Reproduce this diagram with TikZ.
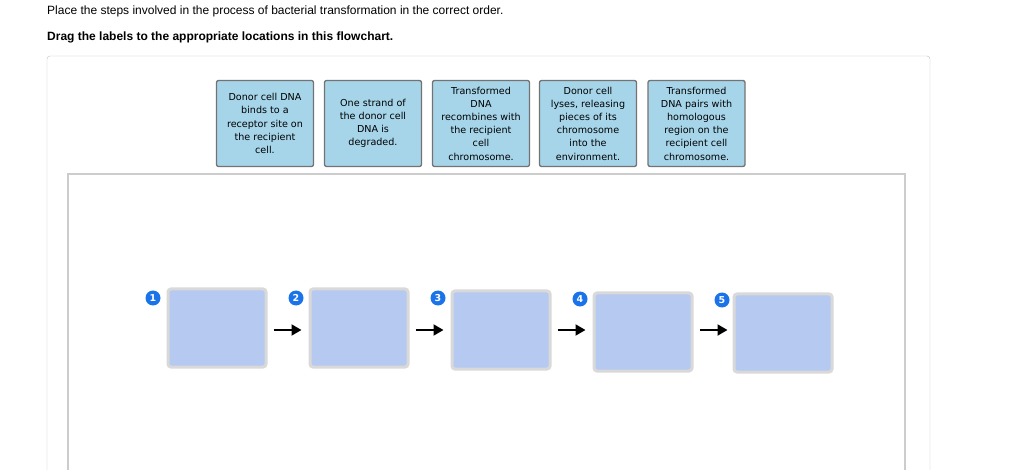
\documentclass[tikz,border=0pt]{standalone}
\usepackage{fontspec}
\setmainfont{Liberation Sans}
\newfontfamily\verd{DejaVu Sans}
\usetikzlibrary{arrows.meta}
\definecolor{lab}{HTML}{A6D5EA}
\definecolor{tgt}{HTML}{B6C9F0}
\definecolor{num}{HTML}{1A73E8}
\tikzset{
 lbl/.style={draw=gray!90!black,line width=1.3pt,fill=lab,rounded corners=2pt,minimum width=97pt,minimum height=86pt,align=center,font=\verd\fontsize{9.6}{13.2}\selectfont,inner sep=1pt},
 tgtbox/.style={draw=gray!30,line width=3pt,fill=tgt,rounded corners=3pt,minimum width=98pt,minimum height=78pt},
 numc/.style={circle,fill=num,text=white,font=\verd\bfseries\fontsize{9.5}{9.5}\selectfont,inner sep=0pt,minimum size=15pt},
 arr/.style={-{Triangle[length=10pt,width=11pt]},line width=2pt}
}
\begin{document}
\begin{tikzpicture}[x=1pt,y=-1pt]
\useasboundingbox (0,0) rectangle (1017,470);
\node[anchor=west,font=\fontsize{12}{14}\selectfont,inner sep=0pt] (t1) at (47,11) {Place the steps involved in the process of bacterial transformation in the correct order.};
\node[anchor=west,font=\bfseries\fontsize{12}{14}\selectfont,inner sep=0pt] (t2) at (47,37) {Drag the labels to the appropriate locations in this flowchart.};
\draw[gray!50,rounded corners=3pt] (47,471) -- (47,56) -- (930,56) -- (930,471);
\draw[gray!40,line width=1.5pt,fill=white] (68,471) -- (68,174) -- (905,174) -- (905,471);
\node[lbl] (l1) at (265,123.5) {Donor cell DNA\\binds to a\\receptor site on\\the recipient\\cell.};
\node[lbl] (l2) at (373,123.5) {One strand of\\the donor cell\\DNA is\\degraded.};
\node[lbl] (l3) at (481,123.5) {Transformed\\DNA\\recombines with\\the recipient\\cell\\chromosome.};
\node[lbl] (l4) at (588,123.5) {Donor cell\\lyses, releasing\\pieces of its\\chromosome\\into the\\environment.};
\node[lbl] (l5) at (696.5,123.5) {Transformed\\DNA pairs with\\homologous\\region on the\\recipient cell\\chromosome.};
\node[tgtbox] (b1) at (217,328) {};
\node[tgtbox] (b2) at (359,328) {};
\node[tgtbox] (b3) at (501,330) {};
\node[tgtbox] (b4) at (643,332) {};
\node[tgtbox] (b5) at (783,333) {};
\node[numc] (n1) at (153,298) {1};
\node[numc] (n2) at (296,298) {2};
\node[numc] (n3) at (438,298) {3};
\node[numc] (n4) at (580,299) {4};
\node[numc] (n5) at (722,300) {5};
\draw[arr] (b1.east|-0,330) ++(6,0) -- ++(28,0);
\draw[arr] (b2.east|-0,330) ++(6,0) -- ++(28,0);
\draw[arr] (b3.east|-0,330) ++(6,0) -- ++(28,0);
\draw[arr] (b4.east|-0,330) ++(6,0) -- ++(28,0);
\end{tikzpicture}
\end{document}
